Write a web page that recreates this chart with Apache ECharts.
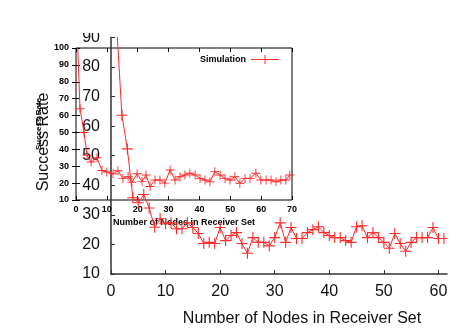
<!DOCTYPE html>
<html><head><meta charset="utf-8">
<script src="https://cdn.jsdelivr.net/npm/echarts@6/dist/echarts.min.js"></script>
<style>html,body{margin:0;padding:0;background:#fff}#c{width:474px;height:336px}</style>
</head><body><div id="c"></div>
<script>
// Outer (large) plot data
const outerX = [1,2,3,4,5,6,7,8,9,10,11,12,13,14,15,16,17,18,19,20,21,22,23,24,25,26,27,28,29,30,31,32,33,34,35,36,37,38,39,40,41,42,43,44,45,46,47,48,49,50,51,52,53,54,55,56,57,58,59,60,61];
const outerY = [95,63.7,52.3,35.8,34.1,36.9,32.3,25.8,28.7,27,27.3,25.3,25.3,27.3,25.7,23.7,20.3,20.7,20.3,25.7,21.3,23,24,20.3,17,22.3,20.7,20.7,19.5,22.3,27.3,20.7,25.7,22,22,24,25,26,24,23,22.3,22.3,21.3,20.7,26,26.3,22.3,24,22.3,20.7,18.7,23.7,20.3,17.7,20.7,22.3,22.3,22.3,25.7,22,22];
// Inset plot data
const insetX = [0.2,1.3,2.6,3.6,4.9,6.8,8.4,10,12,13.6,15.2,16.9,18.1,19.8,21.4,22.7,24,25.6,27.2,28.8,30.5,32.1,33.7,35.3,36.9,38.6,40.2,41.8,43.4,45,46.7,48.3,49.9,51.5,53.1,54.8,56.4,58.3,59.9,61.6,63.2,64.8,66.4,68,69.3];
const insetY = [118,64,50,36.5,32.5,35,27.5,26.6,25.5,27.3,22.8,24,20.5,25.5,21,24.8,18,21.8,21.8,20,27.8,21.8,23.8,24.8,25.8,24.8,22.8,21.8,20.8,26.8,24.8,22.8,21.8,23.8,19.9,22.8,22.8,25.8,21.8,21.8,21.8,20.8,21.8,21.8,24.8];
const seriesName = 'Simulation';
const xTitle = 'Number of Nodes in Receiver Set';
const yTitle = 'Success Rate';
const outerYTicks = {min:10, max:90, interval:10};
const outerXTicks = {min:0, max:70, interval:10};
const insetYTicks = {min:10, max:100, interval:10};
const insetXTicks = {min:0, max:70, interval:10};

const RED = '#ff2a2a';
const FONT = 'Liberation Sans';
const plus = 'path://M0,4.5L10,4.5L10,5.5L0,5.5Z M4.5,0L5.5,0L5.5,10L4.5,10Z';
const legendIcon = 'path://M0,4L28,4L28,5L0,5Z M13.5,0L14.5,0L14.5,9L13.5,9Z';

const outerData = outerX.map((x,i)=>[x, outerY[i]]);
const insetData = insetX.map((x,i)=>[x, insetY[i]]);

const chart = echarts.init(document.getElementById('c'), null, {renderer:'canvas'});
const smallLbl = {fontFamily:FONT, fontSize:9, fontWeight:'bold', color:'#000'};
chart.setOption({
  animation:false,
  backgroundColor:'#fff',
  grid:[
    {left:111, top:37.4, width:382, height:236.6, containLabel:false, outerBoundsMode:'none'},
    {left:76, top:48, width:216, height:152, show:true, borderColor:'#000', borderWidth:1, backgroundColor:'transparent', containLabel:false, outerBoundsMode:'none'}
  ],
  legend:{
    data:[{name:seriesName, icon:legendIcon}], right:190, top:50, align:'right', itemWidth:28, itemHeight:9, itemGap:6,
    textStyle:smallLbl
  },
  xAxis:[
    {gridIndex:0, type:'value', min:outerXTicks.min, max:outerXTicks.max, interval:outerXTicks.interval,
     axisLine:{show:true, lineStyle:{color:'#333', width:1.5}}, axisTick:{inside:true, length:4, lineStyle:{color:'#333'}},
     axisLabel:{fontFamily:FONT, fontSize:16, color:'#111', margin:10}, splitLine:{show:false},
     name:xTitle, nameLocation:'middle', nameGap:37, nameTextStyle:{fontFamily:FONT, fontSize:16, color:'#111'}},
    {gridIndex:1, type:'value', min:insetXTicks.min, max:insetXTicks.max, interval:insetXTicks.interval, position:'bottom',
     axisLine:{show:false}, axisTick:{inside:true, length:4, lineStyle:{color:'#000'}},
     axisLabel:Object.assign({margin:5}, smallLbl), splitLine:{show:false},
     name:xTitle, nameLocation:'middle', nameGap:18, nameTextStyle:smallLbl},
    {gridIndex:1, type:'value', min:insetXTicks.min, max:insetXTicks.max, interval:insetXTicks.interval, position:'top',
     axisLine:{show:false}, axisTick:{inside:true, length:4, lineStyle:{color:'#000'}},
     axisLabel:{show:false}, splitLine:{show:false}}
  ],
  yAxis:[
    {gridIndex:0, type:'value', min:outerYTicks.min, max:outerYTicks.max, interval:outerYTicks.interval,
     axisLine:{show:true, lineStyle:{color:'#333', width:1.5}}, axisTick:{show:true, inside:true, length:4, lineStyle:{color:'#333'}},
     axisLabel:{fontFamily:FONT, fontSize:16, color:'#111', margin:11}, splitLine:{show:false}},
    {gridIndex:1, type:'value', min:insetYTicks.min, max:insetYTicks.max, interval:insetYTicks.interval, position:'left',
     axisLine:{show:false}, axisTick:{show:true, inside:true, length:4, lineStyle:{color:'#000'}},
     axisLabel:Object.assign({margin:7}, smallLbl), splitLine:{show:false},
     name:yTitle, nameLocation:'middle', nameGap:33, nameTextStyle:{fontFamily:FONT, fontSize:8, fontWeight:'bold', color:'#000'}},
    {gridIndex:1, type:'value', min:insetYTicks.min, max:insetYTicks.max, interval:insetYTicks.interval, position:'right',
     axisLine:{show:false}, axisTick:{show:true, inside:true, length:4, lineStyle:{color:'#000'}},
     axisLabel:{show:false}, splitLine:{show:false}}
  ],
  series:[
    {type:'line', name:'outer', xAxisIndex:0, yAxisIndex:0, data:outerData, clip:true,
     symbol:plus, symbolSize:11, showAllSymbol:true,
     lineStyle:{color:RED, width:1}, itemStyle:{color:RED}},
    {type:'line', name:seriesName, xAxisIndex:1, yAxisIndex:1, data:insetData, clip:true,
     symbol:plus, symbolSize:9, showAllSymbol:true,
     lineStyle:{color:RED, width:1}, itemStyle:{color:RED}}
  ],
  graphic:[
    {type:'text', x:44, y:142, rotation:Math.PI/2, z:50,
     style:{text:yTitle, fontFamily:FONT, fontSize:16, fill:'#111', align:'center', verticalAlign:'middle'}},
    {type:'rect', shape:{x:0, y:0, width:474, height:33}, style:{fill:'#fff'}, z:100},
    {type:'rect', shape:{x:447.5, y:0, width:30, height:336}, style:{fill:'#fff'}, z:100}
  ]
});
</script></body></html>
